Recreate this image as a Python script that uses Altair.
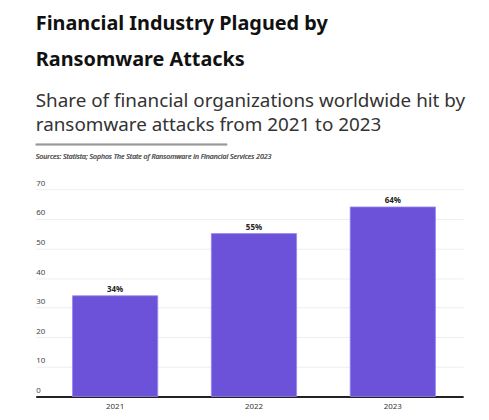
import altair as alt
import pandas as pd

years = ["2021", "2022", "2023"]
shares = [34, 55, 64]
labels = ["34%", "55%", "64%"]
y_ticks = [0, 10, 20, 30, 40, 50, 60, 70]

title_lines = ["Financial Industry Plagued by", "Ransomware Attacks"]
subtitle_lines = ["Share of financial organizations worldwide hit by",
                  "ransomware attacks from 2021 to 2023"]
source_text = "Sources: Statista;  Sophos The State of Ransomware in Financial Services 2023"

df = pd.DataFrame({"year": years, "share": shares, "label": labels})
FONT = "Noto Sans"

x_enc = alt.X("year:N", title=None,
              scale=alt.Scale(paddingInner=0.386, paddingOuter=0.232, align=0.57),
              axis=alt.Axis(labelAngle=0, labelFontSize=8, labelColor="#333",
                            labelFont=FONT, domainColor="#222", domainWidth=2,
                            ticks=False, labelPadding=6))
y_enc = alt.Y("share:Q", title=None,
              scale=alt.Scale(domain=[0, 70], nice=False),
              axis=alt.Axis(values=y_ticks, tickCount=8, labelAlign="left",
                            labelBaseline="bottom", labelPadding=0, ticks=False,
                            domain=False, labelOverlap=False, labelOffset=-2,
                            labelFontSize=8, labelColor="#444", labelFont=FONT,
                            gridColor="#eeeeee", gridWidth=1))

base = alt.Chart(df)

bars = base.mark_bar(color="#6C52D9", stroke="#9a88f0", strokeWidth=0.8).encode(
    x=x_enc, y=y_enc)

text = base.mark_text(baseline="bottom", dy=-2, fontSize=8, fontWeight="bold",
                      color="#222", font=FONT).encode(
    x=x_enc, y=y_enc, text="label:N")

rule = base.mark_rule(color="#999999", strokeWidth=1.5).encode(
    x=alt.value(0), x2=alt.value(193), y=alt.value(-45))

src = base.mark_text(align="left", baseline="middle", fontSize=7, fontStyle="italic",
                     fontWeight="normal", color="#666", font="Open Sans").encode(
    x=alt.value(0), y=alt.value(-32), text=alt.value(source_text))

chart = alt.layer(bars, text, rule, src).properties(
    width=431, height=209,
    padding={"left": 27, "top": 4, "right": 15, "bottom": 5},
    title=alt.TitleParams(
        text=title_lines, subtitle=subtitle_lines, anchor="start", frame="group",
        font=FONT, fontSize=20, fontWeight="bold", color="#111", lineHeight=37,
        subtitleFont=FONT, subtitleFontSize=19, subtitleColor="#333",
        subtitleLineHeight=24, subtitlePadding=22, offset=9),
).configure_view(strokeWidth=0, stroke="transparent")

chart.save("out.html", embed_options={"renderer": "svg", "actions": False})
